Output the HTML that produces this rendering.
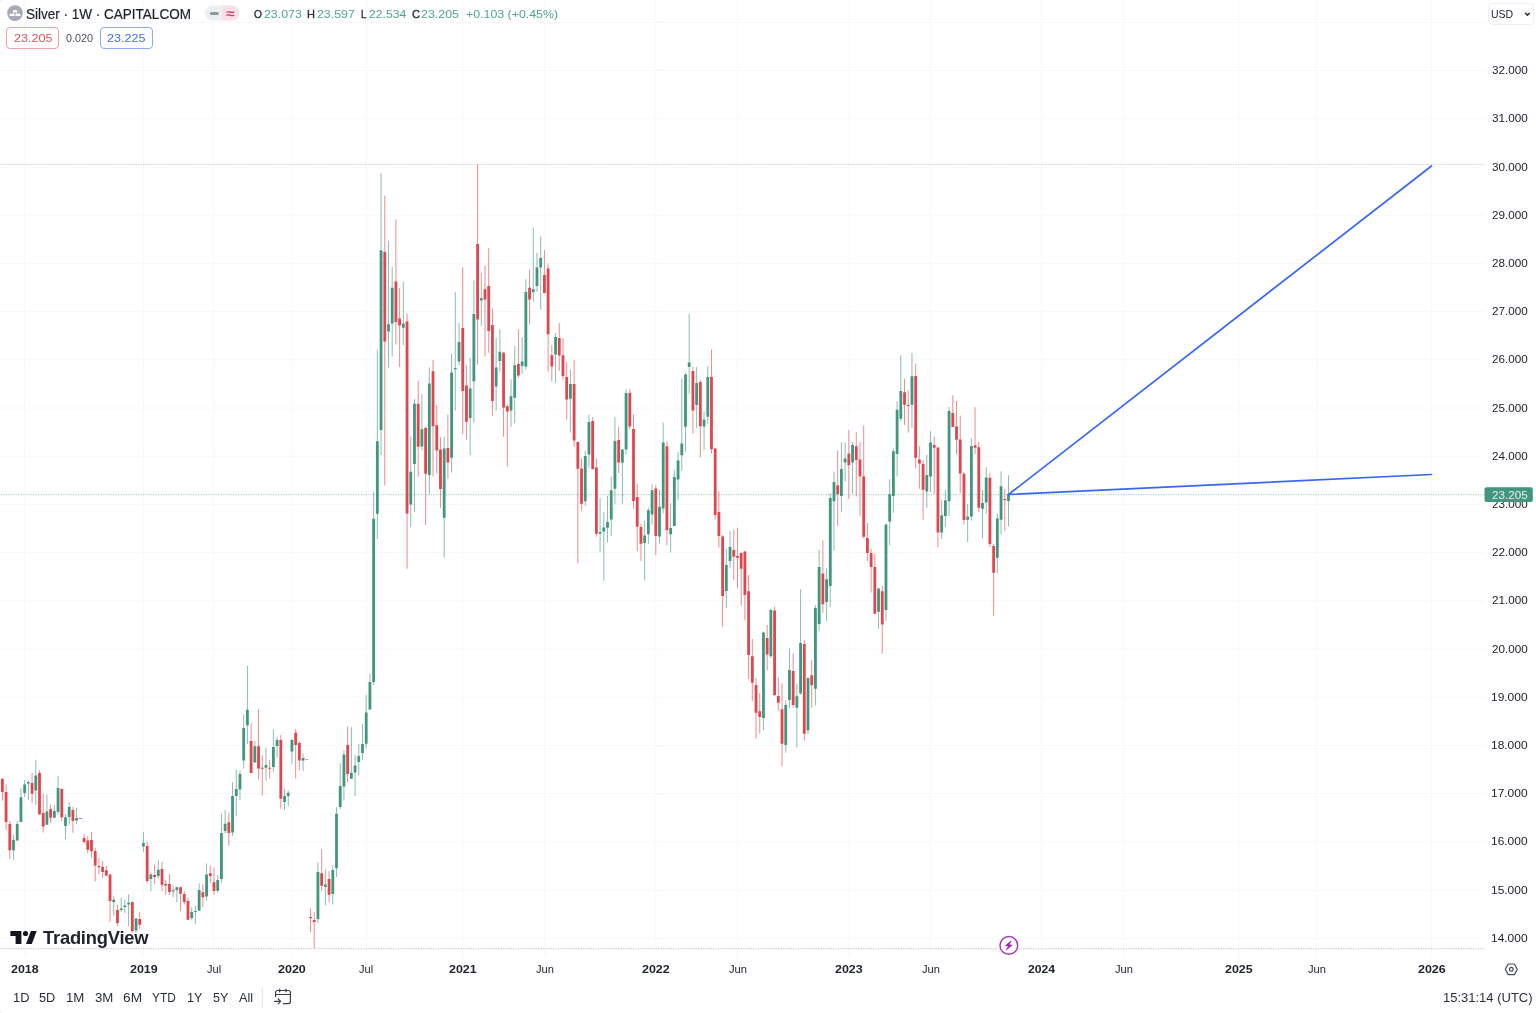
<!DOCTYPE html>
<html lang="en"><head><meta charset="utf-8"><title>Silver 1W CAPITALCOM</title>
<style>
html,body{margin:0;padding:0;background:#fff;}
body{width:1536px;height:1013px;position:relative;overflow:hidden;font-family:"Liberation Sans",sans-serif;}
.t{position:absolute;white-space:nowrap;transform-origin:0 50%;display:block;}
.a{position:absolute;box-sizing:border-box;}
svg{position:absolute;left:0;top:0;display:block;}
</style></head><body>
<svg width="1536" height="1013" viewBox="0 0 1536 1013">
<g stroke="#f7f8f9" stroke-width="1" fill="none">
<line x1="0" y1="938.20" x2="1484.5" y2="938.20"/>
<line x1="0" y1="890.00" x2="1484.5" y2="890.00"/>
<line x1="0" y1="841.80" x2="1484.5" y2="841.80"/>
<line x1="0" y1="793.60" x2="1484.5" y2="793.60"/>
<line x1="0" y1="745.40" x2="1484.5" y2="745.40"/>
<line x1="0" y1="697.20" x2="1484.5" y2="697.20"/>
<line x1="0" y1="649.00" x2="1484.5" y2="649.00"/>
<line x1="0" y1="600.80" x2="1484.5" y2="600.80"/>
<line x1="0" y1="552.60" x2="1484.5" y2="552.60"/>
<line x1="0" y1="504.40" x2="1484.5" y2="504.40"/>
<line x1="0" y1="456.20" x2="1484.5" y2="456.20"/>
<line x1="0" y1="408.00" x2="1484.5" y2="408.00"/>
<line x1="0" y1="359.80" x2="1484.5" y2="359.80"/>
<line x1="0" y1="311.60" x2="1484.5" y2="311.60"/>
<line x1="0" y1="263.40" x2="1484.5" y2="263.40"/>
<line x1="0" y1="215.20" x2="1484.5" y2="215.20"/>
<line x1="0" y1="167.00" x2="1484.5" y2="167.00"/>
<line x1="0" y1="118.80" x2="1484.5" y2="118.80"/>
<line x1="0" y1="70.60" x2="1484.5" y2="70.60"/>
<line x1="0" y1="22.40" x2="1484.5" y2="22.40"/>
<line x1="24.65" y1="0" x2="24.65" y2="956.3"/>
<line x1="143.45" y1="0" x2="143.45" y2="956.3"/>
<line x1="213.99" y1="0" x2="213.99" y2="956.3"/>
<line x1="291.95" y1="0" x2="291.95" y2="956.3"/>
<line x1="366.21" y1="0" x2="366.21" y2="956.3"/>
<line x1="462.73" y1="0" x2="462.73" y2="956.3"/>
<line x1="544.41" y1="0" x2="544.41" y2="956.3"/>
<line x1="655.79" y1="0" x2="655.79" y2="956.3"/>
<line x1="737.47" y1="0" x2="737.47" y2="956.3"/>
<line x1="848.84" y1="0" x2="848.84" y2="956.3"/>
<line x1="930.52" y1="0" x2="930.52" y2="956.3"/>
<line x1="1041.90" y1="0" x2="1041.90" y2="956.3"/>
<line x1="1123.58" y1="0" x2="1123.58" y2="956.3"/>
<line x1="1238.67" y1="0" x2="1238.67" y2="956.3"/>
<line x1="1316.63" y1="0" x2="1316.63" y2="956.3"/>
<line x1="1431.72" y1="0" x2="1431.72" y2="956.3"/>
</g>
<path d="M2.37 778.75V800.62M6.08 784.38V830.00M9.80 821.00V859.00M32.07 773.12V803.12M39.50 770.25V814.38M43.21 793.75V832.50M50.64 804.38V823.12M61.77 788.12V821.25M72.91 806.88V832.75M80.34 818.12V818.62M84.05 834.00V843.50M87.76 836.25V853.12M91.47 831.88V857.50M95.19 848.12V881.50M98.90 858.12V874.38M102.61 861.00V878.12M106.32 866.00V876.25M110.04 874.38V921.88M117.46 904.75V926.00M132.31 901.88V932.50M139.74 911.88V928.75M147.16 841.88V883.12M154.59 864.75V883.75M162.01 861.88V891.25M165.73 880.00V895.00M169.44 874.00V895.00M180.58 886.50V911.00M184.29 891.25V904.38M188.00 897.50V919.75M202.85 884.50V907.25M210.28 865.75V882.88M213.99 867.88V894.75M228.84 812.75V845.75M251.12 723.12V773.12M258.54 709.38V779.38M262.25 755.25V795.62M269.68 760.00V778.50M280.82 735.00V808.75M295.67 729.00V778.50M299.38 741.00V770.25M306.81 759.25V759.75M310.52 908.75V932.00M314.23 912.00V948.38M321.66 849.12V891.25M329.08 871.25V902.25M347.64 726.50V782.50M384.77 195.62V485.50M395.91 219.38V344.62M399.62 288.00V367.12M407.05 313.38V568.75M418.18 380.50V476.50M425.61 426.50V525.00M433.03 360.00V476.50M436.75 405.00V473.38M440.46 437.12V507.75M447.88 414.62V478.75M462.73 267.25V433.75M466.45 365.25V439.62M477.58 164.38V364.62M485.01 265.88V356.50M488.72 248.12V352.75M492.44 308.38V415.88M503.57 351.75V436.75M507.29 404.25V466.50M518.42 329.25V377.75M529.56 269.62V324.62M544.41 250.00V293.00M548.12 263.38V371.50M551.84 345.25V381.50M559.26 323.00V370.88M562.97 338.00V379.62M566.69 362.12V419.62M574.11 360.00V446.75M577.83 441.50V563.38M581.54 458.38V510.88M592.68 417.12V469.62M596.39 458.38V536.75M618.66 426.75V473.00M629.80 388.75V429.62M633.51 414.25V508.75M637.23 483.75V551.25M640.94 524.00V560.88M655.79 485.50V555.00M666.93 441.25V545.25M692.92 366.75V433.75M700.34 380.25V457.50M711.48 349.25V453.75M715.19 447.75V519.62M718.90 491.25V547.50M722.62 535.00V626.75M733.75 529.25V580.00M737.47 527.75V587.75M741.18 552.50V605.88M744.89 550.88V620.00M748.60 575.00V679.00M752.32 639.00V700.88M756.03 678.00V738.75M759.74 693.00V733.75M767.17 625.00V670.50M774.59 606.75V695.25M778.31 677.50V710.50M782.02 683.38V766.50M793.16 653.38V707.75M804.29 640.00V740.88M811.72 660.00V707.50M822.86 540.25V613.00M837.71 450.25V525.88M848.84 430.00V498.75M856.27 432.12V496.50M859.98 442.12V515.88M863.70 425.50V538.75M867.41 523.00V560.88M871.12 548.75V592.50M874.83 553.75V613.75M882.26 585.88V653.75M904.53 379.00V425.00M908.25 390.25V432.50M915.67 363.50V468.50M919.38 446.25V488.75M923.10 460.00V519.75M934.23 436.88V493.75M937.95 447.25V547.25M952.80 395.25V426.88M956.51 401.00V454.38M960.22 415.62V493.12M963.94 471.88V524.75M975.07 407.25V454.00M978.79 441.88V512.25M989.92 473.12V546.88M993.64 543.75V615.94M1004.77 488.75V531.00" stroke="#e1454d" stroke-opacity="0.62" stroke-width="1.0" fill="none"/>
<path d="M0.97 778.75h2.8V791.88h-2.8ZM4.68 791.88h2.8V821.88h-2.8ZM8.40 824.00h2.8V850.25h-2.8ZM30.67 783.12h2.8V793.75h-2.8ZM38.10 773.12h2.8V814.38h-2.8ZM41.81 812.88h2.8V826.62h-2.8ZM49.24 809.12h2.8V817.75h-2.8ZM60.37 789.00h2.8V817.25h-2.8ZM71.51 810.00h2.8V821.00h-2.8ZM78.94 818.02h2.8V818.73h-2.8ZM82.65 838.12h2.8V841.88h-2.8ZM86.36 840.62h2.8V849.75h-2.8ZM90.07 840.00h2.8V851.25h-2.8ZM93.79 851.00h2.8V865.62h-2.8ZM97.50 866.00h2.8V867.25h-2.8ZM101.21 866.88h2.8V871.88h-2.8ZM104.92 870.25h2.8V875.62h-2.8ZM108.64 874.38h2.8V901.00h-2.8ZM116.06 910.00h2.8V923.12h-2.8ZM130.91 901.88h2.8V931.25h-2.8ZM138.34 919.00h2.8V924.75h-2.8ZM145.76 846.00h2.8V881.00h-2.8ZM153.19 875.00h2.8V876.88h-2.8ZM160.61 869.00h2.8V884.75h-2.8ZM164.33 884.00h2.8V885.62h-2.8ZM168.04 884.00h2.8V891.88h-2.8ZM179.18 887.25h2.8V893.75h-2.8ZM182.89 894.00h2.8V901.88h-2.8ZM186.60 901.00h2.8V919.75h-2.8ZM201.45 892.25h2.8V897.25h-2.8ZM208.88 873.25h2.8V876.00h-2.8ZM212.59 882.25h2.8V891.00h-2.8ZM227.44 822.25h2.8V833.12h-2.8ZM249.72 741.00h2.8V773.12h-2.8ZM257.14 746.25h2.8V768.50h-2.8ZM260.85 767.75h2.8V768.75h-2.8ZM268.28 767.75h2.8V768.75h-2.8ZM279.42 740.00h2.8V798.75h-2.8ZM294.27 732.75h2.8V745.00h-2.8ZM297.98 743.12h2.8V760.62h-2.8ZM305.41 759.15h2.8V759.85h-2.8ZM309.12 917.00h2.8V918.25h-2.8ZM312.83 920.00h2.8V922.00h-2.8ZM320.26 873.25h2.8V885.75h-2.8ZM327.68 879.12h2.8V894.75h-2.8ZM346.24 745.00h2.8V774.00h-2.8ZM383.37 251.88h2.8V341.50h-2.8ZM394.51 281.50h2.8V322.12h-2.8ZM398.22 318.38h2.8V325.50h-2.8ZM405.65 321.50h2.8V513.38h-2.8ZM416.78 403.75h2.8V446.75h-2.8ZM424.21 428.00h2.8V473.75h-2.8ZM431.63 371.25h2.8V426.25h-2.8ZM435.35 425.25h2.8V450.50h-2.8ZM439.06 449.62h2.8V489.00h-2.8ZM446.48 448.00h2.8V462.50h-2.8ZM461.33 328.00h2.8V390.88h-2.8ZM465.05 385.50h2.8V421.75h-2.8ZM476.18 244.00h2.8V319.62h-2.8ZM483.61 289.25h2.8V299.62h-2.8ZM487.32 286.12h2.8V330.88h-2.8ZM491.04 325.00h2.8V400.88h-2.8ZM502.17 352.75h2.8V407.50h-2.8ZM505.89 406.25h2.8V411.50h-2.8ZM517.02 364.00h2.8V375.50h-2.8ZM528.16 287.75h2.8V299.62h-2.8ZM543.01 275.00h2.8V293.00h-2.8ZM546.72 268.38h2.8V334.25h-2.8ZM550.44 355.25h2.8V366.50h-2.8ZM557.86 338.00h2.8V355.50h-2.8ZM561.57 355.25h2.8V375.88h-2.8ZM565.29 377.12h2.8V399.62h-2.8ZM572.71 384.00h2.8V440.50h-2.8ZM576.43 442.12h2.8V468.75h-2.8ZM580.14 468.38h2.8V503.75h-2.8ZM591.28 420.88h2.8V469.00h-2.8ZM594.99 467.50h2.8V533.75h-2.8ZM617.26 440.00h2.8V462.50h-2.8ZM628.40 393.12h2.8V426.50h-2.8ZM632.11 429.00h2.8V500.88h-2.8ZM635.83 497.12h2.8V526.75h-2.8ZM639.54 527.12h2.8V543.75h-2.8ZM654.39 488.38h2.8V535.88h-2.8ZM665.53 446.25h2.8V530.25h-2.8ZM691.52 370.88h2.8V410.50h-2.8ZM698.94 382.12h2.8V426.25h-2.8ZM710.08 377.12h2.8V449.25h-2.8ZM713.79 448.38h2.8V515.00h-2.8ZM717.50 512.12h2.8V535.88h-2.8ZM721.22 536.50h2.8V595.88h-2.8ZM732.35 550.00h2.8V556.75h-2.8ZM736.07 555.88h2.8V557.75h-2.8ZM739.78 553.00h2.8V568.75h-2.8ZM743.49 551.50h2.8V595.00h-2.8ZM747.20 591.25h2.8V655.00h-2.8ZM750.92 656.25h2.8V682.75h-2.8ZM754.63 685.00h2.8V712.75h-2.8ZM758.34 711.25h2.8V717.12h-2.8ZM765.77 638.00h2.8V654.62h-2.8ZM773.19 610.50h2.8V695.25h-2.8ZM776.91 695.88h2.8V702.75h-2.8ZM780.62 709.25h2.8V743.75h-2.8ZM791.76 670.88h2.8V705.00h-2.8ZM802.89 644.00h2.8V733.75h-2.8ZM810.32 675.25h2.8V685.25h-2.8ZM821.46 573.38h2.8V604.25h-2.8ZM836.31 485.25h2.8V494.25h-2.8ZM847.44 453.38h2.8V465.25h-2.8ZM854.87 446.25h2.8V460.00h-2.8ZM858.58 459.62h2.8V476.25h-2.8ZM862.30 476.50h2.8V536.75h-2.8ZM866.01 538.00h2.8V553.00h-2.8ZM869.72 553.00h2.8V567.12h-2.8ZM873.43 567.12h2.8V613.75h-2.8ZM880.86 591.25h2.8V624.62h-2.8ZM903.13 392.25h2.8V404.75h-2.8ZM906.85 405.00h2.8V406.00h-2.8ZM914.27 376.00h2.8V457.75h-2.8ZM917.98 459.38h2.8V463.50h-2.8ZM921.70 464.00h2.8V489.75h-2.8ZM932.83 445.00h2.8V447.75h-2.8ZM936.55 447.50h2.8V532.50h-2.8ZM951.40 413.12h2.8V426.88h-2.8ZM955.11 426.50h2.8V439.75h-2.8ZM958.82 439.38h2.8V473.50h-2.8ZM962.54 473.75h2.8V520.00h-2.8ZM973.67 445.25h2.8V447.75h-2.8ZM977.39 447.25h2.8V507.75h-2.8ZM988.52 477.75h2.8V544.00h-2.8ZM992.24 546.00h2.8V572.81h-2.8ZM1003.37 499.00h2.8V500.00h-2.8Z" fill="#e1454d"/>
<path d="M13.51 834.75V860.00M17.22 821.25V840.62M20.94 788.12V821.88M24.65 780.00V796.88M28.36 780.00V800.00M35.79 759.75V805.00M46.92 794.62V824.75M54.35 805.00V818.12M58.06 776.25V815.00M65.49 814.00V839.38M69.20 801.88V825.00M76.62 807.50V823.75M113.75 896.00V915.62M121.18 897.50V911.88M124.89 899.75V913.12M128.60 894.38V926.25M136.03 918.12V932.50M143.45 831.88V851.88M150.88 872.50V891.25M158.30 860.00V878.75M173.15 885.25V897.25M176.86 886.50V902.25M191.71 907.25V920.38M195.43 906.00V924.12M199.14 883.25V910.75M206.57 863.50V900.75M217.70 875.00V892.88M221.42 813.75V882.88M225.13 810.25V833.75M232.55 782.12V836.00M236.27 769.38V816.25M239.98 770.62V800.25M243.69 714.38V768.50M247.40 665.94V743.75M254.83 741.25V762.50M265.97 747.50V780.62M273.39 729.38V772.25M277.10 736.88V757.50M284.53 788.75V810.00M288.24 790.62V806.25M291.95 739.00V764.00M303.09 753.50V771.25M317.94 862.25V922.88M325.37 869.12V905.38M332.79 865.00V904.50M336.51 807.25V877.00M340.22 763.12V809.38M343.93 750.25V800.62M351.36 727.25V778.75M355.07 754.75V796.00M358.78 743.75V775.62M362.49 724.00V760.00M366.21 695.00V748.12M369.92 674.00V710.00M373.63 492.12V685.00M377.34 350.25V539.00M381.06 173.50V455.25M388.48 240.88V367.75M392.20 267.12V356.50M403.33 281.50V345.25M410.76 436.50V527.12M414.47 399.00V512.12M421.90 394.25V450.25M429.32 367.50V494.25M444.17 436.50V557.75M451.60 353.75V472.50M455.31 292.12V410.50M459.02 322.75V365.50M470.16 357.75V455.25M473.87 280.50V422.50M481.30 273.00V325.88M496.15 338.00V410.50M499.86 329.25V371.50M511.00 379.25V426.75M514.71 345.88V423.00M522.14 337.12V373.75M525.85 279.25V369.62M533.27 227.50V301.75M536.99 252.75V292.12M540.70 236.50V309.62M555.55 333.00V382.75M570.40 369.62V432.50M585.25 450.88V505.88M588.96 414.62V467.75M600.10 498.00V551.75M603.81 512.12V580.88M607.53 495.88V542.50M611.24 476.50V535.88M614.95 417.12V504.25M622.38 449.00V503.75M626.09 389.25V454.62M644.65 520.50V580.25M648.36 507.75V544.00M652.08 484.00V524.62M659.50 489.62V543.75M663.21 422.50V513.38M670.64 503.00V552.50M674.35 470.25V525.88M678.07 452.12V500.25M681.78 378.38V470.88M685.49 372.50V451.75M689.20 314.00V393.75M696.63 367.12V428.00M704.05 411.25V450.00M707.77 366.25V423.75M726.33 549.00V608.00M730.04 531.25V568.38M763.46 631.75V730.25M770.88 608.38V658.38M785.73 700.25V752.75M789.44 648.38V708.00M796.87 683.75V747.50M800.58 589.25V694.62M808.01 677.12V734.00M815.43 605.25V705.25M819.14 550.00V630.88M826.57 568.38V620.88M830.28 493.38V607.12M833.99 471.50V550.88M841.42 442.12V512.12M845.13 442.75V481.50M852.56 442.12V493.75M878.55 587.75V628.75M885.97 523.75V620.88M889.68 479.25V545.25M893.40 448.38V512.75M897.11 401.25V476.50M900.82 355.25V421.25M911.96 353.12V428.12M926.81 455.00V507.75M930.52 431.25V491.88M941.66 500.25V539.00M945.37 489.75V526.88M949.09 406.88V516.00M967.65 504.00V541.88M971.36 438.12V520.62M982.50 490.25V538.12M986.21 467.25V513.50M997.35 513.50V573.12M1001.06 471.25V534.75M1008.49 475.25V526.50" stroke="#429680" stroke-opacity="0.62" stroke-width="1.0" fill="none"/>
<path d="M12.11 840.00h2.8V850.25h-2.8ZM15.82 824.00h2.8V840.62h-2.8ZM19.54 797.25h2.8V821.88h-2.8ZM23.25 784.38h2.8V793.12h-2.8ZM26.96 781.88h2.8V783.50h-2.8ZM34.39 775.38h2.8V790.62h-2.8ZM45.52 811.50h2.8V824.75h-2.8ZM52.95 811.00h2.8V817.75h-2.8ZM56.66 788.12h2.8V811.88h-2.8ZM64.09 817.25h2.8V826.00h-2.8ZM67.80 807.12h2.8V816.88h-2.8ZM75.22 818.12h2.8V820.62h-2.8ZM112.35 899.75h2.8V901.88h-2.8ZM119.78 908.50h2.8V910.00h-2.8ZM123.49 905.62h2.8V906.88h-2.8ZM127.20 902.75h2.8V904.38h-2.8ZM134.63 918.50h2.8V930.62h-2.8ZM142.05 843.12h2.8V846.50h-2.8ZM149.48 874.38h2.8V879.00h-2.8ZM156.90 869.75h2.8V876.00h-2.8ZM171.75 890.25h2.8V891.50h-2.8ZM175.46 887.25h2.8V890.00h-2.8ZM190.31 912.00h2.8V917.88h-2.8ZM194.03 911.00h2.8V912.00h-2.8ZM197.74 890.00h2.8V910.38h-2.8ZM205.17 874.50h2.8V896.62h-2.8ZM216.30 880.00h2.8V890.75h-2.8ZM220.02 833.12h2.8V879.12h-2.8ZM223.73 823.75h2.8V831.00h-2.8ZM231.15 796.00h2.8V832.50h-2.8ZM234.87 789.00h2.8V796.00h-2.8ZM238.58 774.00h2.8V789.38h-2.8ZM242.29 728.12h2.8V760.62h-2.8ZM246.00 709.69h2.8V725.25h-2.8ZM253.43 746.25h2.8V762.50h-2.8ZM264.57 765.00h2.8V767.75h-2.8ZM271.99 746.88h2.8V766.88h-2.8ZM275.70 740.00h2.8V746.00h-2.8ZM283.13 796.00h2.8V801.88h-2.8ZM286.84 792.75h2.8V796.00h-2.8ZM290.55 740.00h2.8V751.50h-2.8ZM301.69 758.12h2.8V760.62h-2.8ZM316.54 872.00h2.8V919.12h-2.8ZM323.97 884.50h2.8V887.00h-2.8ZM331.39 870.00h2.8V894.12h-2.8ZM335.11 813.75h2.8V868.25h-2.8ZM338.82 786.00h2.8V806.88h-2.8ZM342.53 754.38h2.8V786.50h-2.8ZM349.96 772.75h2.8V778.75h-2.8ZM353.67 765.62h2.8V772.50h-2.8ZM357.38 756.00h2.8V761.88h-2.8ZM361.09 744.00h2.8V753.12h-2.8ZM364.81 712.50h2.8V743.75h-2.8ZM368.52 681.88h2.8V709.38h-2.8ZM372.23 518.75h2.8V681.88h-2.8ZM375.94 441.25h2.8V513.75h-2.8ZM379.66 250.25h2.8V430.00h-2.8ZM387.08 324.25h2.8V331.50h-2.8ZM390.80 287.75h2.8V323.38h-2.8ZM401.93 323.38h2.8V327.75h-2.8ZM409.36 471.75h2.8V504.62h-2.8ZM413.07 403.75h2.8V464.00h-2.8ZM420.50 429.25h2.8V446.50h-2.8ZM427.92 383.38h2.8V475.00h-2.8ZM442.77 448.38h2.8V517.75h-2.8ZM450.20 372.50h2.8V457.75h-2.8ZM453.91 368.00h2.8V369.25h-2.8ZM457.62 342.12h2.8V361.50h-2.8ZM468.76 388.38h2.8V418.00h-2.8ZM472.47 314.00h2.8V381.25h-2.8ZM479.90 298.00h2.8V300.50h-2.8ZM494.75 367.50h2.8V386.50h-2.8ZM498.46 351.75h2.8V360.88h-2.8ZM509.60 396.25h2.8V410.50h-2.8ZM513.31 365.25h2.8V397.75h-2.8ZM520.74 361.50h2.8V365.88h-2.8ZM524.45 292.12h2.8V366.50h-2.8ZM531.87 289.25h2.8V292.12h-2.8ZM535.59 267.50h2.8V285.88h-2.8ZM539.30 258.00h2.8V267.50h-2.8ZM554.15 337.12h2.8V354.62h-2.8ZM569.00 384.00h2.8V398.75h-2.8ZM583.85 455.88h2.8V501.25h-2.8ZM587.56 422.12h2.8V454.62h-2.8ZM598.70 532.12h2.8V533.75h-2.8ZM602.41 527.50h2.8V531.50h-2.8ZM606.13 522.12h2.8V527.75h-2.8ZM609.84 490.25h2.8V519.62h-2.8ZM613.55 440.88h2.8V488.75h-2.8ZM620.98 449.62h2.8V462.75h-2.8ZM624.69 393.12h2.8V449.62h-2.8ZM643.25 535.50h2.8V543.00h-2.8ZM646.96 510.25h2.8V534.25h-2.8ZM650.68 490.25h2.8V514.62h-2.8ZM658.10 506.75h2.8V536.50h-2.8ZM661.81 442.50h2.8V508.38h-2.8ZM669.24 528.00h2.8V534.25h-2.8ZM672.95 477.12h2.8V525.88h-2.8ZM676.67 460.50h2.8V479.62h-2.8ZM680.38 443.62h2.8V455.25h-2.8ZM684.09 374.62h2.8V426.75h-2.8ZM687.80 362.50h2.8V367.12h-2.8ZM695.23 383.00h2.8V404.88h-2.8ZM702.65 419.62h2.8V426.50h-2.8ZM706.37 377.12h2.8V416.75h-2.8ZM724.93 565.00h2.8V590.88h-2.8ZM728.64 547.12h2.8V560.88h-2.8ZM762.06 632.50h2.8V718.00h-2.8ZM769.48 610.00h2.8V656.25h-2.8ZM784.33 705.00h2.8V745.00h-2.8ZM788.04 670.00h2.8V700.00h-2.8ZM795.47 696.25h2.8V707.75h-2.8ZM799.18 643.00h2.8V693.38h-2.8ZM806.61 678.00h2.8V730.25h-2.8ZM814.03 608.00h2.8V688.75h-2.8ZM817.74 567.12h2.8V624.00h-2.8ZM825.17 579.25h2.8V602.12h-2.8ZM828.88 498.00h2.8V585.88h-2.8ZM832.59 482.12h2.8V501.25h-2.8ZM840.02 469.00h2.8V495.88h-2.8ZM843.73 458.38h2.8V462.50h-2.8ZM851.16 445.00h2.8V462.50h-2.8ZM877.15 588.38h2.8V611.75h-2.8ZM884.57 524.62h2.8V610.00h-2.8ZM888.28 494.25h2.8V521.50h-2.8ZM892.00 451.25h2.8V495.88h-2.8ZM895.71 409.75h2.8V454.00h-2.8ZM899.42 391.00h2.8V418.75h-2.8ZM910.56 376.25h2.8V404.75h-2.8ZM925.41 475.00h2.8V491.50h-2.8ZM929.12 442.50h2.8V476.50h-2.8ZM940.26 515.25h2.8V532.50h-2.8ZM943.97 500.25h2.8V516.00h-2.8ZM947.69 411.00h2.8V501.25h-2.8ZM966.25 516.50h2.8V519.75h-2.8ZM969.96 446.00h2.8V516.50h-2.8ZM981.10 503.12h2.8V508.75h-2.8ZM984.81 477.50h2.8V502.50h-2.8ZM995.95 518.50h2.8V557.75h-2.8ZM999.66 486.25h2.8V519.75h-2.8ZM1007.09 494.00h2.8V501.00h-2.8Z" fill="#429680"/>
<line x1="0.6" y1="164.5" x2="1484.5" y2="164.5" stroke="#5d606b" stroke-opacity="0.3" stroke-width="1.1" stroke-dasharray="1.25 1.25"/>
<line x1="0.6" y1="948.6" x2="1484.5" y2="948.6" stroke="#5d606b" stroke-opacity="0.3" stroke-width="1.1" stroke-dasharray="1.25 1.25"/>
<line x1="0.6" y1="494.6" x2="1484.5" y2="494.6" stroke="#429680" stroke-opacity="0.4" stroke-width="1.1" stroke-dasharray="1.25 1.25"/>
<g stroke="#3a66f6" stroke-width="1.7" stroke-linecap="round" fill="none">
<line x1="1008.6" y1="494.5" x2="1431.5" y2="166.0"/>
<line x1="1008.6" y1="494.5" x2="1431.5" y2="474.5"/>
</g>
<g transform="translate(1008.85 945.4)"><circle r="8.85" fill="#fff" stroke="#9c36b5" stroke-width="1.4"/><path d="M2.2 -4.6 L-3.7 0.35 L-0.5 0.55 L-2.8 4.8 L3.5 -0.35 L0.5 -0.55 Z" fill="#9c27b0" stroke="#9c27b0" stroke-width="0.5" stroke-linejoin="round"/></g>
<g transform="translate(1511.3 969.3)" fill="none" stroke="#4a4e59" stroke-width="1.2" stroke-linejoin="round"><path d="M-6 0 L-3.1 -5.3 L3.1 -5.3 L6 0 L3.1 5.3 L-3.1 5.3 Z"/><circle r="1.9"/></g>
<g fill="none" stroke="#3c404b" stroke-width="1.2" stroke-linecap="round" stroke-linejoin="round"><path d="M275.6 996.4 V992.5 Q275.6 990.5 277.6 990.5 H288.4 Q290.4 990.5 290.4 992.5 V1001.6 Q290.4 1003.6 288.4 1003.6 H283.4"/><path d="M275.6 994.5 H290.4"/><path d="M279.7 989.2 V991.8"/><path d="M286 989.2 V991.8"/><path d="M274.6 1001.4 H280.4"/><path d="M278.2 999 L280.6 1001.4 L278.2 1003.8"/></g>
<line x1="262.4" y1="988" x2="262.4" y2="1007.3" stroke="#e0e3eb" stroke-width="1"/>
<g fill="#131722"><path d="M10.4 930.9 H21.4 V944 H15.6 V936.1 H10.4 Z"/><circle cx="25.5" cy="933.5" r="2.6"/><path d="M30.9 930.9 H36.7 L31.8 944 H26 Z"/></g>
<g><circle cx="15" cy="13.1" r="7.9" fill="#a9a9b9"/><path d="M13.4 10 H16.6 L17.35 12.6 H12.65 Z" fill="#fff"/><path d="M10.6 13.5 H14.1 L14.8 16 H9 Z" fill="#fff"/><path d="M15.9 13.5 H19.4 L21 16 H15.2 Z" fill="#fff"/></g>
<path d="M212.7 5.4 H221.7 V20.8 H212.7 A7.7 7.7 0 0 1 212.7 5.4 Z" fill="#eeeff2"/>
<path d="M221.7 5.4 H231.6 A7.7 7.7 0 0 1 231.6 20.8 H221.7 Z" fill="#fae1e7"/>
<rect x="209.8" y="12.1" width="9" height="3" rx="1.5" fill="#9598a1"/>
<path d="M1525.5 13.3 L1527.4 15.1 L1529.3 13.3" fill="none" stroke="#2a2e39" stroke-width="1.5" stroke-linecap="round" stroke-linejoin="round"/>
<g fill="#e4e5ec"><path d="M0 0H2A2 2 0 0 0 0 2Z"/><path d="M0 1013V1011A2 2 0 0 0 2 1013Z"/></g>
</svg>
<span class="t" style="left:26.48px;top:7px;font-size:14.80px;line-height:14.80px;color:#1c202b;transform:scaleX(0.9131);-webkit-text-stroke:0.2px #1c202b;">Silver · 1W · CAPITALCOM</span>
<span class="t" style="left:225.89px;top:7px;font-size:13.00px;line-height:13.00px;color:#d83462;transform:scaleX(1.1744);font-weight:700;">≈</span>
<span class="t" style="left:253.74px;top:9px;font-size:11.30px;line-height:11.30px;color:#2a2e39;transform:scaleX(0.9038);-webkit-text-stroke:0.35px #2a2e39;">O</span>
<span class="t" style="left:263.57px;top:9px;font-size:11.30px;line-height:11.30px;color:#4fa58f;transform:scaleX(1.0924);">23.073</span>
<span class="t" style="left:307.43px;top:9px;font-size:11.30px;line-height:11.30px;color:#2a2e39;transform:scaleX(0.9749);-webkit-text-stroke:0.35px #2a2e39;">H</span>
<span class="t" style="left:316.87px;top:9px;font-size:11.30px;line-height:11.30px;color:#4fa58f;transform:scaleX(1.0938);">23.597</span>
<span class="t" style="left:360.60px;top:9px;font-size:11.30px;line-height:11.30px;color:#2a2e39;transform:scaleX(0.8637);-webkit-text-stroke:0.35px #2a2e39;">L</span>
<span class="t" style="left:368.68px;top:9px;font-size:11.30px;line-height:11.30px;color:#4fa58f;transform:scaleX(1.0774);">22.534</span>
<span class="t" style="left:412.20px;top:9px;font-size:11.30px;line-height:11.30px;color:#2a2e39;transform:scaleX(0.9904);-webkit-text-stroke:0.35px #2a2e39;">C</span>
<span class="t" style="left:421.37px;top:9px;font-size:11.30px;line-height:11.30px;color:#4fa58f;transform:scaleX(1.0989);">23.205</span>
<span class="t" style="left:465.70px;top:9px;font-size:11.30px;line-height:11.30px;color:#4fa58f;transform:scaleX(1.0933);">+0.103 (+0.45%)</span>
<div class="a" style="left:6.25px;top:27.1px;width:52.75px;height:21.6px;border:1px solid #f0a0a6;border-radius:4px;"></div>
<span class="t" style="left:13.85px;top:33px;font-size:11.40px;line-height:11.40px;color:#e4535c;transform:scaleX(1.1038);">23.205</span>
<span class="t" style="left:66.11px;top:34px;font-size:10.20px;line-height:10.20px;color:#4a4e59;transform:scaleX(1.0600);">0.020</span>
<div class="a" style="left:100.25px;top:27.1px;width:52.5px;height:21.6px;border:1px solid #8fa8f8;border-radius:4px;"></div>
<span class="t" style="left:107.45px;top:33px;font-size:11.40px;line-height:11.40px;color:#426ff0;transform:scaleX(1.1038);">23.225</span>
<div class="a" style="left:1488px;top:3px;width:46px;height:22px;border:1px solid #eef0f6;border-radius:4px;"></div>
<span class="t" style="left:1491.25px;top:9px;font-size:11.40px;line-height:11.40px;color:#20242f;transform:scaleX(0.9205);">USD</span>
<span class="t" style="left:1491.15px;top:933px;font-size:11.30px;line-height:11.30px;color:#20242f;transform:scaleX(1.0570);">14.000</span>
<span class="t" style="left:1491.15px;top:885px;font-size:11.30px;line-height:11.30px;color:#20242f;transform:scaleX(1.0570);">15.000</span>
<span class="t" style="left:1491.15px;top:836px;font-size:11.30px;line-height:11.30px;color:#20242f;transform:scaleX(1.0570);">16.000</span>
<span class="t" style="left:1491.15px;top:788px;font-size:11.30px;line-height:11.30px;color:#20242f;transform:scaleX(1.0570);">17.000</span>
<span class="t" style="left:1491.15px;top:740px;font-size:11.30px;line-height:11.30px;color:#20242f;transform:scaleX(1.0570);">18.000</span>
<span class="t" style="left:1491.15px;top:692px;font-size:11.30px;line-height:11.30px;color:#20242f;transform:scaleX(1.0570);">19.000</span>
<span class="t" style="left:1491.90px;top:644px;font-size:11.30px;line-height:11.30px;color:#20242f;transform:scaleX(1.0342);">20.000</span>
<span class="t" style="left:1491.90px;top:595px;font-size:11.30px;line-height:11.30px;color:#20242f;transform:scaleX(1.0342);">21.000</span>
<span class="t" style="left:1491.90px;top:547px;font-size:11.30px;line-height:11.30px;color:#20242f;transform:scaleX(1.0342);">22.000</span>
<span class="t" style="left:1491.90px;top:499px;font-size:11.30px;line-height:11.30px;color:#20242f;transform:scaleX(1.0342);">23.000</span>
<span class="t" style="left:1491.90px;top:451px;font-size:11.30px;line-height:11.30px;color:#20242f;transform:scaleX(1.0342);">24.000</span>
<span class="t" style="left:1491.90px;top:403px;font-size:11.30px;line-height:11.30px;color:#20242f;transform:scaleX(1.0342);">25.000</span>
<span class="t" style="left:1491.90px;top:354px;font-size:11.30px;line-height:11.30px;color:#20242f;transform:scaleX(1.0342);">26.000</span>
<span class="t" style="left:1491.90px;top:306px;font-size:11.30px;line-height:11.30px;color:#20242f;transform:scaleX(1.0342);">27.000</span>
<span class="t" style="left:1491.90px;top:258px;font-size:11.30px;line-height:11.30px;color:#20242f;transform:scaleX(1.0342);">28.000</span>
<span class="t" style="left:1491.90px;top:210px;font-size:11.30px;line-height:11.30px;color:#20242f;transform:scaleX(1.0342);">29.000</span>
<span class="t" style="left:1491.84px;top:162px;font-size:11.30px;line-height:11.30px;color:#20242f;transform:scaleX(1.0370);">30.000</span>
<span class="t" style="left:1491.84px;top:113px;font-size:11.30px;line-height:11.30px;color:#20242f;transform:scaleX(1.0370);">31.000</span>
<span class="t" style="left:1491.84px;top:65px;font-size:11.30px;line-height:11.30px;color:#20242f;transform:scaleX(1.0370);">32.000</span>
<svg width="1536" height="1013" viewBox="0 0 1536 1013"><rect x="1484.5" y="487.3" width="48.3" height="14.7" rx="2" fill="#429680"/></svg>
<span class="t" style="left:1492.20px;top:490px;font-size:11.30px;line-height:11.30px;color:#e3f1ed;transform:scaleX(1.0318);">23.205</span>
<span class="t" style="left:10.77px;top:964px;font-size:11.10px;line-height:11.10px;color:#20242f;font-weight:700;transform:scaleX(1.1209);">2018</span>
<span class="t" style="left:129.60px;top:964px;font-size:11.10px;line-height:11.10px;color:#20242f;font-weight:700;transform:scaleX(1.1241);">2019</span>
<span class="t" style="left:207.03px;top:963px;font-size:11.60px;line-height:11.60px;color:#20242f;transform:scaleX(0.9522);">Jul</span>
<span class="t" style="left:278.11px;top:964px;font-size:11.10px;line-height:11.10px;color:#20242f;font-weight:700;transform:scaleX(1.1263);">2020</span>
<span class="t" style="left:359.25px;top:963px;font-size:11.60px;line-height:11.60px;color:#20242f;transform:scaleX(0.9522);">Jul</span>
<span class="t" style="left:448.83px;top:964px;font-size:11.10px;line-height:11.10px;color:#20242f;font-weight:700;transform:scaleX(1.1184);">2021</span>
<span class="t" style="left:535.54px;top:963px;font-size:11.60px;line-height:11.60px;color:#20242f;transform:scaleX(0.9598);">Jun</span>
<span class="t" style="left:641.93px;top:964px;font-size:11.10px;line-height:11.10px;color:#20242f;font-weight:700;transform:scaleX(1.1231);">2022</span>
<span class="t" style="left:728.60px;top:963px;font-size:11.60px;line-height:11.60px;color:#20242f;transform:scaleX(0.9598);">Jun</span>
<span class="t" style="left:834.99px;top:964px;font-size:11.10px;line-height:11.10px;color:#20242f;font-weight:700;transform:scaleX(1.1232);">2023</span>
<span class="t" style="left:921.65px;top:963px;font-size:11.60px;line-height:11.60px;color:#20242f;transform:scaleX(0.9598);">Jun</span>
<span class="t" style="left:1028.31px;top:964px;font-size:11.10px;line-height:11.10px;color:#20242f;font-weight:700;transform:scaleX(1.0976);">2024</span>
<span class="t" style="left:1114.71px;top:963px;font-size:11.60px;line-height:11.60px;color:#20242f;transform:scaleX(0.9598);">Jun</span>
<span class="t" style="left:1224.78px;top:964px;font-size:11.10px;line-height:11.10px;color:#20242f;font-weight:700;transform:scaleX(1.1202);">2025</span>
<span class="t" style="left:1307.76px;top:963px;font-size:11.60px;line-height:11.60px;color:#20242f;transform:scaleX(0.9598);">Jun</span>
<span class="t" style="left:1417.87px;top:964px;font-size:11.10px;line-height:11.10px;color:#20242f;font-weight:700;transform:scaleX(1.1234);">2026</span>
<span class="t" style="left:12.50px;top:992px;font-size:12.50px;line-height:12.50px;color:#2a2e39;transform:scaleX(1.0281);">1D</span>
<span class="t" style="left:39.37px;top:992px;font-size:12.50px;line-height:12.50px;color:#2a2e39;transform:scaleX(1.0195);">5D</span>
<span class="t" style="left:66.20px;top:992px;font-size:12.50px;line-height:12.50px;color:#2a2e39;transform:scaleX(1.0584);">1M</span>
<span class="t" style="left:94.88px;top:992px;font-size:12.50px;line-height:12.50px;color:#2a2e39;transform:scaleX(1.0569);">3M</span>
<span class="t" style="left:123.34px;top:992px;font-size:12.50px;line-height:12.50px;color:#2a2e39;transform:scaleX(1.0979);">6M</span>
<span class="t" style="left:152.42px;top:992px;font-size:12.50px;line-height:12.50px;color:#2a2e39;transform:scaleX(0.9515);">YTD</span>
<span class="t" style="left:187.10px;top:992px;font-size:12.50px;line-height:12.50px;color:#2a2e39;transform:scaleX(1.0085);">1Y</span>
<span class="t" style="left:213.17px;top:992px;font-size:12.50px;line-height:12.50px;color:#2a2e39;transform:scaleX(1.0101);">5Y</span>
<span class="t" style="left:239.27px;top:992px;font-size:12.50px;line-height:12.50px;color:#2a2e39;transform:scaleX(1.0122);">All</span>
<span class="t" style="left:1442.80px;top:992px;font-size:12.90px;line-height:12.90px;color:#2a2e39;transform:scaleX(1.0077);">15:31:14 (UTC)</span>
<span class="t" style="left:43.29px;top:929px;font-size:18.60px;line-height:18.60px;color:#20242f;font-weight:700;transform:scaleX(0.9846);letter-spacing:-0.2px;">TradingView</span>
</body></html>
